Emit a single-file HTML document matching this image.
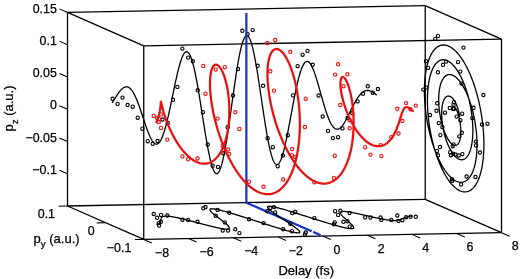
<!DOCTYPE html>
<html><head><meta charset="utf-8"><style>
html,body{margin:0;padding:0;background:#fff;}
svg{display:block;}
</style></head><body>
<svg width="520" height="279" viewBox="0 0 520 279">
<rect width="520" height="279" fill="#fff"/>
<g stroke="#000" stroke-width="1.3" fill="none"><line x1="67.50" y1="12.40" x2="425.25" y2="5.70"/><line x1="67.50" y1="12.40" x2="67.50" y2="206.00"/><line x1="67.50" y1="12.40" x2="143.75" y2="45.80"/><line x1="143.75" y1="45.80" x2="501.50" y2="39.10"/><line x1="143.75" y1="45.80" x2="143.75" y2="239.40"/><line x1="425.25" y1="5.70" x2="425.25" y2="199.30"/><line x1="425.25" y1="5.70" x2="501.50" y2="39.10"/><line x1="501.50" y1="39.10" x2="501.50" y2="232.70"/><line x1="67.50" y1="206.00" x2="425.25" y2="199.30"/><line x1="67.50" y1="206.00" x2="143.75" y2="239.40"/><line x1="143.75" y1="239.40" x2="501.50" y2="232.70"/><line x1="425.25" y1="199.30" x2="501.50" y2="232.70"/></g><g stroke="#000" stroke-width="1.05" fill="none"><line x1="67.50" y1="12.40" x2="59.44" y2="8.87"/><line x1="67.50" y1="44.67" x2="59.44" y2="41.14"/><line x1="67.50" y1="76.93" x2="59.44" y2="73.40"/><line x1="67.50" y1="109.20" x2="59.44" y2="105.67"/><line x1="67.50" y1="141.47" x2="59.44" y2="137.94"/><line x1="67.50" y1="173.73" x2="59.44" y2="170.20"/><line x1="67.50" y1="206.00" x2="58.70" y2="206.16"/><line x1="105.62" y1="222.70" x2="96.83" y2="222.86"/><line x1="143.75" y1="239.40" x2="134.95" y2="239.56"/><line x1="143.75" y1="239.40" x2="151.81" y2="242.93"/><line x1="188.47" y1="238.56" x2="196.53" y2="242.09"/><line x1="233.19" y1="237.72" x2="241.25" y2="241.26"/><line x1="277.91" y1="236.89" x2="285.97" y2="240.42"/><line x1="322.62" y1="236.05" x2="330.69" y2="239.58"/><line x1="367.34" y1="235.21" x2="375.40" y2="238.74"/><line x1="412.06" y1="234.38" x2="420.12" y2="237.91"/><line x1="456.78" y1="233.54" x2="464.84" y2="237.07"/><line x1="501.50" y1="232.70" x2="509.56" y2="236.23"/></g><g font-family="Liberation Sans, Arial, Helvetica, sans-serif" font-size="12.4" fill="#000" stroke="#000" stroke-width="0.25"><text x="56.8" y="12.6" text-anchor="end">0.15</text><text x="56.8" y="44.9" text-anchor="end">0.1</text><text x="56.8" y="77.1" text-anchor="end">0.05</text><text x="56.8" y="109.4" text-anchor="end">0</text><text x="56.8" y="141.7" text-anchor="end">−0.05</text><text x="56.8" y="173.9" text-anchor="end">−0.1</text><text x="55.0" y="218.4" text-anchor="end">0.1</text><text x="94.7" y="235.2" text-anchor="end">0</text><text x="131.3" y="251.8" text-anchor="end">−0.1</text><text x="162.1" y="257.0" text-anchor="middle">−8</text><text x="206.5" y="256.2" text-anchor="middle">−6</text><text x="251.2" y="255.3" text-anchor="middle">−4</text><text x="295.8" y="254.5" text-anchor="middle">−2</text><text x="336.9" y="253.7" text-anchor="middle">0</text><text x="381.2" y="252.8" text-anchor="middle">2</text><text x="425.8" y="252.0" text-anchor="middle">4</text><text x="470.0" y="251.1" text-anchor="middle">6</text><text x="515.3" y="250.3" text-anchor="middle">8</text><text x="306.2" y="275.2" text-anchor="middle" font-size="13.0">Delay (fs)</text><text x="33.5" y="242.6" font-size="13.0">p<tspan font-size="9.8" dy="4.8">y</tspan><tspan dy="-4.8"> (a.u.)</tspan></text><text transform="translate(12.9,131.6) rotate(-90)" font-size="13.0">p<tspan font-size="9.8" dy="4.8">z</tspan><tspan dy="-4.8"> (a.u.)</tspan></text></g><g stroke="#1432c8" stroke-width="2.2" fill="none" stroke-linecap="butt"><polyline points="246.4,201.7 246.4,202.7 311.69,231.24"/><line x1="313.16" y1="231.88" x2="320.62" y2="235.15"/></g><g stroke="#000" stroke-width="1.3" fill="none" stroke-linejoin="round"><polyline points="156.37,224.50 156.60,224.47 156.82,224.43 157.03,224.39 157.24,224.35 157.44,224.30 157.63,224.25 157.82,224.20 158.00,224.14 158.17,224.08 158.34,224.02 158.50,223.96 158.65,223.89 158.80,223.82 158.94,223.75 159.08,223.67 159.20,223.59 159.33,223.51 159.44,223.43 159.55,223.34 159.66,223.25 159.75,223.16 159.85,223.07 159.93,222.97 160.02,222.87 160.09,222.77 160.16,222.67 160.23,222.56 160.29,222.46 160.35,222.35 160.40,222.24 160.45,222.12 160.49,222.01 160.54,221.89 160.57,221.77 160.61,221.65 160.64,221.53 160.66,221.41 160.69,221.29 160.71,221.16 160.73,221.04 160.75,220.91 160.76,220.78 160.78,220.65 160.79,220.53 160.80,220.40 160.81,220.27 160.83,220.14 160.84,220.01 160.85,219.88 160.86,219.75 160.87,219.62 160.88,219.49 160.90,219.36 160.91,219.23 160.93,219.11 160.95,218.98 160.97,218.86 161.00,218.73 161.02,218.61 161.06,218.49 161.09,218.37 161.13,218.25 161.17,218.14 161.22,218.02 161.27,217.91 161.33,217.80 161.39,217.70 161.46,217.59 161.53,217.49 161.61,217.39 161.70,217.29 161.79,217.20 161.89,217.11 162.00,217.02 162.12,216.94 162.24,216.86 162.37,216.78 162.51,216.71 162.66,216.64 162.82,216.58 162.99,216.51 163.16,216.46 163.35,216.40 163.54,216.36 163.75,216.31 163.96,216.27 164.19,216.24 164.43,216.20 164.67,216.18 164.93,216.16 165.20,216.14 165.48,216.13 165.77,216.12 166.07,216.12 166.39,216.12 166.71,216.13 167.05,216.14 167.40,216.16 167.76,216.19 168.13,216.21 168.52,216.25 168.91,216.29 169.32,216.33 169.74,216.38 170.17,216.44 170.62,216.50 171.08,216.56 171.54,216.63 172.02,216.71 172.52,216.79 173.02,216.88 173.54,216.97 174.06,217.07 174.60,217.17 175.15,217.27 175.71,217.38 176.28,217.50 176.87,217.62 177.46,217.75 178.06,217.88 178.68,218.01 179.30,218.15 179.93,218.29 180.58,218.44 181.23,218.59 181.89,218.75 182.56,218.91 183.24,219.07 183.93,219.24 184.63,219.41 185.33,219.58 186.04,219.76 186.76,219.94 187.48,220.12 188.21,220.31 188.95,220.49 189.69,220.68 190.43,220.88 191.19,221.07 191.94,221.27 192.70,221.47 193.46,221.67 194.23,221.87 195.00,222.07 195.77,222.27 196.54,222.48 197.31,222.68 198.09,222.89 198.86,223.09 199.64,223.30 200.41,223.50 201.18,223.70 201.95,223.91 202.72,224.11 203.49,224.31 204.25,224.51 205.01,224.71 205.77,224.91 206.52,225.10 207.27,225.30 208.01,225.49 208.75,225.67 209.48,225.86 210.20,226.04 210.91,226.22 211.62,226.40 212.32,226.57 213.01,226.73 213.69,226.90 214.36,227.06 215.02,227.21 215.68,227.36 216.32,227.51 216.94,227.65 217.56,227.79 218.17,227.92 218.76,228.04 219.34,228.16 219.90,228.28 220.45,228.38 220.99,228.48 221.51,228.58 222.02,228.67 222.52,228.75 222.99,228.82 223.46,228.89 223.90,228.95 224.33,229.01 224.75,229.05 225.14,229.09 225.52,229.12 225.88,229.15 226.23,229.17 226.56,229.17 226.87,229.18 227.16,229.17 227.43,229.15 227.69,229.13 227.92,229.10 228.14,229.06 228.34,229.02 228.53,228.96 228.69,228.90 228.83,228.83 228.96,228.75 229.07,228.66 229.16,228.57 229.23,228.46 229.28,228.35 229.32,228.23 229.34,228.11 229.34,227.97 229.32,227.83 229.28,227.68 229.23,227.52 229.16,227.36 229.07,227.18 228.97,227.00 228.85,226.82 228.71,226.62 228.56,226.42 228.39,226.22 228.21,226.00 228.01,225.78 227.80,225.55 227.58,225.32 227.34,225.08 227.09,224.84 226.82,224.59 226.54,224.33 226.26,224.07 225.96,223.80 225.65,223.53 225.33,223.26 225.00,222.98 224.66,222.70 224.31,222.41 223.95,222.12 223.59,221.83 223.22,221.53 222.84,221.23 222.46,220.93 222.07,220.63 221.68,220.32 221.29,220.01 220.89,219.70 220.49,219.39 220.09,219.08 219.68,218.77 219.28,218.46 218.88,218.15 218.47,217.84 218.07,217.53 217.67,217.22 217.28,216.91 216.88,216.60 216.49,216.30 216.11,216.00 215.73,215.70 215.36,215.40 215.00,215.11 214.64,214.82 214.29,214.53 213.95,214.25 213.62,213.97 213.30,213.69 213.00,213.42 212.70,213.16 212.42,212.90 212.14,212.65 211.89,212.40 211.64,212.16 211.41,211.92 211.20,211.70 211.00,211.47 210.82,211.26 210.65,211.05 210.51,210.85 210.38,210.66 210.26,210.48 210.17,210.31 210.10,210.14 210.05,209.98 210.01,209.83 210.00,209.69 210.01,209.56 210.04,209.44 210.09,209.33 210.17,209.23 210.26,209.14 210.38,209.05 210.53,208.98 210.69,208.92 210.88,208.87 211.09,208.83 211.33,208.80 211.59,208.78 211.88,208.77 212.19,208.77 212.52,208.78 212.88,208.80 213.26,208.84 213.67,208.88 214.10,208.93 214.56,209.00 215.04,209.08 215.54,209.16 216.07,209.26 216.62,209.37 217.20,209.49 217.80,209.61 218.42,209.75 219.07,209.90 219.74,210.06 220.44,210.23 221.15,210.41 221.89,210.60 222.65,210.80 223.43,211.01 224.24,211.22 225.06,211.45 225.90,211.69 226.77,211.93 227.65,212.18 228.55,212.44 229.47,212.71 230.41,212.99 231.36,213.27 232.34,213.56 233.32,213.86 234.33,214.17 235.34,214.48 236.38,214.79 237.42,215.12 238.48,215.45 239.55,215.78 240.63,216.12 241.72,216.47 242.83,216.81 243.94,217.17 245.06,217.52 246.19,217.88 247.32,218.25 248.46,218.61 249.61,218.98 250.76,219.35 251.91,219.72 253.07,220.09 254.23,220.47 255.39,220.84 256.55,221.21 257.71,221.59 258.87,221.96 260.03,222.33 261.18,222.71 262.34,223.07 263.48,223.44 264.62,223.81 265.76,224.17 266.89,224.53 268.01,224.89 269.12,225.24 270.22,225.59 271.31,225.93 272.39,226.27 273.46,226.60 274.51,226.93 275.56,227.25 276.59,227.57 277.60,227.88 278.60,228.18 279.58,228.48 280.55,228.77 281.49,229.05 282.42,229.32 283.33,229.58 284.22,229.84 285.09,230.09 285.94,230.32 286.77,230.55 287.58,230.77 288.36,230.98 289.12,231.18 289.86,231.37 290.58,231.55 291.27,231.72 291.93,231.87 292.57,232.02 293.19,232.15 293.77,232.28 294.34,232.39 294.87,232.49 295.38,232.58 295.87,232.66 296.32,232.72 296.75,232.77 297.15,232.81 297.52,232.84 297.87,232.86 298.19,232.87 298.47,232.86 298.74,232.84 298.97,232.81 299.18,232.76 299.35,232.71 299.50,232.64 299.63,232.56 299.72,232.46 299.79,232.36 299.83,232.24 299.85,232.11 299.83,231.97 299.79,231.82 299.73,231.66 299.64,231.49 299.52,231.30 299.38,231.10 299.22,230.90 299.03,230.68 298.81,230.45 298.58,230.21 298.32,229.97 298.03,229.71 297.73,229.44 297.41,229.16 297.06,228.88 296.70,228.58 296.31,228.28 295.91,227.97 295.49,227.65 295.05,227.33 294.60,226.99 294.13,226.65 293.64,226.30 293.14,225.95 292.63,225.59 292.10,225.23 291.56,224.86 291.01,224.48 290.45,224.10 289.88,223.72 289.30,223.33 288.71,222.94 288.12,222.54 287.52,222.15 286.91,221.75 286.30,221.34 285.69,220.94 285.07,220.54 284.46,220.13 283.84,219.73 283.22,219.32 282.60,218.91 281.98,218.51 281.36,218.11 280.75,217.70 280.14,217.30 279.54,216.90 278.95,216.51 278.36,216.12 277.77,215.73 277.20,215.34 276.64,214.96 276.08,214.58 275.54,214.21 275.01,213.84 274.49,213.48 273.98,213.12 273.49,212.77 273.01,212.43 272.55,212.09 272.10,211.76 271.67,211.44 271.26,211.13 270.87,210.82 270.49,210.52 270.14,210.23 269.80,209.95 269.49,209.68 269.19,209.41 268.92,209.16 268.67,208.92 268.44,208.68 268.24,208.46 268.06,208.24 267.90,208.04 267.77,207.85 267.66,207.67 267.58,207.50 267.52,207.34 267.49,207.19 267.48,207.05 267.50,206.93 267.55,206.81 267.62,206.71 267.72,206.62 267.85,206.54 268.01,206.47 268.19,206.42 268.39,206.38 268.63,206.35 268.89,206.33 269.18,206.32 269.50,206.32 269.84,206.34 270.21,206.37 270.61,206.40 271.03,206.46 271.48,206.52 271.96,206.59 272.46,206.68 272.98,206.77 273.54,206.88 274.11,207.00 274.71,207.13 275.34,207.27 275.99,207.42 276.66,207.58 277.36,207.75 278.08,207.93 278.82,208.12 279.58,208.32 280.37,208.53 281.17,208.75 282.00,208.98 282.84,209.21 283.70,209.45 284.58,209.71 285.48,209.96 286.40,210.23 287.33,210.50 288.28,210.79 289.24,211.07 290.22,211.37 291.21,211.67 292.21,211.97 293.23,212.28 294.25,212.60 295.29,212.92 296.34,213.24 297.39,213.57 298.46,213.90 299.53,214.24 300.61,214.57 301.69,214.91 302.78,215.26 303.88,215.60 304.98,215.95 306.08,216.30 307.18,216.65 308.28,217.00 309.39,217.35 310.49,217.69 311.60,218.04 312.70,218.39 313.80,218.74 314.89,219.08 315.98,219.43 317.07,219.77 318.15,220.11 319.23,220.44 320.29,220.78 321.35,221.11 322.40,221.43 323.45,221.76 324.48,222.07 325.50,222.39 326.51,222.69 327.51,223.00 328.49,223.29 329.46,223.59 330.42,223.87 331.37,224.15 332.30,224.42 333.21,224.69 334.11,224.95 334.99,225.20 335.86,225.44 336.70,225.68 337.53,225.91 338.35,226.13 339.14,226.34 339.91,226.55 340.67,226.75 341.40,226.93 342.12,227.11 342.81,227.28 343.48,227.44 344.14,227.59 344.77,227.74 345.38,227.87 345.97,227.99 346.53,228.11 347.08,228.21 347.60,228.30 348.10,228.39 348.58,228.47 349.04,228.53 349.47,228.59 349.89,228.63 350.28,228.67 350.64,228.70 350.99,228.71 351.31,228.72 351.61,228.72 351.89,228.71 352.15,228.69 352.39,228.66 352.61,228.62 352.80,228.57 352.97,228.51 353.13,228.44 353.26,228.36 353.37,228.28 353.47,228.19 353.54,228.08 353.59,227.97 353.63,227.85 353.65,227.73 353.65,227.59 353.63,227.45 353.59,227.30 353.54,227.14 353.47,226.98 353.39,226.81 353.29,226.63 353.18,226.45 353.05,226.26 352.91,226.06 352.75,225.86 352.58,225.65 352.40,225.44 352.21,225.22 352.01,224.99 351.80,224.77 351.57,224.53 351.34,224.30 351.10,224.06 350.85,223.81 350.59,223.57 350.33,223.32 350.06,223.07 349.78,222.81 349.50,222.55 349.22,222.29 348.93,222.03 348.64,221.77 348.34,221.51 348.04,221.24 347.74,220.97 347.44,220.71 347.14,220.44 346.84,220.18 346.54,219.91 346.24,219.65 345.95,219.38 345.66,219.12 345.37,218.86 345.08,218.60 344.80,218.34 344.52,218.08 344.25,217.83 343.98,217.58 343.72,217.33 343.47,217.09 343.22,216.84 342.98,216.60 342.75,216.37 342.53,216.14 342.32,215.91 342.11,215.69 341.92,215.47 341.74,215.25 341.56,215.04 341.40,214.84 341.25,214.64 341.12,214.44 340.99,214.25 340.88,214.07 340.78,213.89 340.69,213.72 340.61,213.55 340.55,213.39 340.50,213.23 340.47,213.09 340.45,212.94 340.45,212.81 340.45,212.68 340.48,212.55 340.52,212.43 340.57,212.32 340.64,212.22 340.72,212.12 340.82,212.03 340.93,211.94 341.06,211.87 341.20,211.79 341.36,211.73 341.54,211.67 341.73,211.62 341.93,211.57 342.15,211.54 342.38,211.50 342.63,211.48 342.89,211.46 343.17,211.45 343.46,211.44 343.77,211.44 344.09,211.45 344.43,211.46 344.78,211.48 345.14,211.50 345.51,211.53 345.90,211.57 346.30,211.61 346.72,211.66 347.14,211.71 347.58,211.77 348.03,211.83 348.49,211.90 348.97,211.97 349.45,212.05 349.95,212.13 350.45,212.22 350.97,212.31 351.49,212.40 352.02,212.50 352.57,212.61 353.12,212.71 353.68,212.82 354.24,212.94 354.82,213.05 355.40,213.17 355.99,213.30 356.58,213.42 357.19,213.55 357.79,213.68 358.40,213.82 359.02,213.95 359.64,214.09 360.27,214.23 360.89,214.37 361.53,214.51 362.16,214.66 362.80,214.80 363.44,214.95 364.08,215.09 364.72,215.24 365.36,215.39 366.01,215.54 366.65,215.68 367.29,215.83 367.94,215.98 368.58,216.12 369.22,216.27 369.86,216.42 370.50,216.56 371.13,216.71 371.76,216.85 372.39,216.99 373.02,217.13 373.64,217.27 374.26,217.41 374.88,217.54 375.49,217.67 376.10,217.81 376.70,217.93 377.29,218.06 377.89,218.19 378.47,218.31 379.05,218.43 379.62,218.54 380.19,218.66 380.75,218.77 381.31,218.88 381.85,218.98 382.39,219.09 382.93,219.18 383.45,219.28 383.97,219.37 384.48,219.46 384.98,219.55 385.48,219.63 385.97,219.71 386.45,219.79 386.92,219.86 387.38,219.93 387.84,219.99 388.28,220.05 388.72,220.11 389.15,220.16 389.57,220.21 389.99,220.26 390.39,220.30 390.79,220.34 391.18,220.38 391.56,220.41 391.93,220.44 392.29,220.47 392.65,220.49 393.00,220.50 393.34,220.52 393.67,220.53 393.99,220.54 394.31,220.54 394.62,220.54 394.92,220.54 395.21,220.53 395.50,220.53 395.78,220.51 396.05,220.50 396.32,220.48 396.57,220.46 396.83,220.43 397.07,220.41 397.31,220.38 397.54,220.35 397.77,220.31 397.99,220.27 398.21,220.23 398.42,220.19 398.62,220.15 398.82,220.10 399.02,220.05 399.21,220.00 399.40,219.95 399.58,219.89 399.76,219.84 399.93,219.78 400.10,219.72 400.27,219.66 400.44,219.60 400.60,219.53 400.76,219.47 400.91,219.40 401.07,219.34 401.22,219.27 401.37,219.20 401.51,219.13 401.66,219.06 401.81,218.99 401.95,218.92 402.09,218.84 402.23,218.77 402.38,218.70 402.52,218.63 402.66,218.55 402.80,218.48 402.94,218.41 403.08,218.34 403.22,218.26 403.37,218.19 403.51,218.12 403.65,218.05 403.80,217.98 403.95,217.91 404.09,217.84 404.24,217.77 404.40,217.70 404.55,217.64 404.71,217.57 404.86,217.50 405.02,217.44 405.19,217.38 405.35,217.31 405.52,217.25 405.69,217.19 405.86,217.13 406.04,217.08 406.22,217.02 406.40,216.97 406.58,216.91 406.77,216.86 406.96,216.81 407.16,216.76 407.35,216.71 407.55,216.67 407.76,216.62 407.97,216.58 408.18,216.54 408.39,216.50 408.61,216.46 408.84,216.42 409.06,216.39 409.29,216.35 409.52,216.32 409.76,216.29 410.00,216.26 410.24,216.23 410.49,216.21 410.74,216.18 411.00,216.16 411.25,216.14 411.51,216.12 411.78,216.10 412.05,216.08 412.32,216.07 412.59,216.05 412.87,216.04"/><polyline points="459.70,116.73 459.63,116.21 459.55,115.70 459.47,115.17 459.39,114.65 459.29,114.12 459.19,113.59 459.08,113.06 458.97,112.53 458.85,111.99 458.72,111.46 458.59,110.92 458.44,110.39 458.30,109.86 458.14,109.33 457.98,108.80 457.82,108.27 457.64,107.75 457.46,107.23 457.28,106.72 457.09,106.21 456.89,105.70 456.69,105.21 456.48,104.72 456.27,104.24 456.05,103.76 455.83,103.30 455.60,102.84 455.36,102.40 455.13,101.96 454.88,101.54 454.64,101.12 454.39,100.72 454.13,100.34 453.87,99.96 453.61,99.60 453.35,99.25 453.08,98.92 452.81,98.61 452.54,98.31 452.26,98.02 451.98,97.76 451.70,97.51 451.42,97.28 451.14,97.07 450.86,96.87 450.58,96.70 450.29,96.55 450.01,96.41 449.72,96.30 449.44,96.20 449.16,96.13 448.87,96.08 448.59,96.05 448.31,96.05 448.03,96.07 447.76,96.10 447.49,96.17 447.22,96.25 446.95,96.36 446.68,96.49 446.42,96.65 446.17,96.83 445.91,97.03 445.67,97.26 445.42,97.51 445.19,97.79 444.95,98.09 444.73,98.41 444.51,98.76 444.29,99.14 444.08,99.53 443.88,99.95 443.69,100.40 443.50,100.86 443.32,101.36 443.15,101.87 442.99,102.41 442.83,102.97 442.69,103.55 442.55,104.15 442.42,104.78 442.30,105.42 442.19,106.09 442.10,106.78 442.01,107.49 441.93,108.21 441.86,108.96 441.80,109.72 441.75,110.51 441.72,111.31 441.69,112.12 441.68,112.95 441.67,113.80 441.68,114.66 441.70,115.54 441.73,116.43 441.77,117.33 441.83,118.25 441.90,119.17 441.98,120.11 442.07,121.05 442.17,122.01 442.28,122.97 442.41,123.94 442.55,124.91 442.70,125.89 442.86,126.87 443.04,127.86 443.22,128.85 443.42,129.84 443.63,130.83 443.85,131.82 444.09,132.80 444.33,133.79 444.59,134.77 444.86,135.75 445.14,136.72 445.43,137.68 445.73,138.64 446.04,139.59 446.36,140.53 446.69,141.45 447.03,142.37 447.38,143.27 447.74,144.16 448.11,145.03 448.49,145.89 448.87,146.73 449.27,147.56 449.67,148.36 450.08,149.15 450.50,149.91 450.92,150.65 451.35,151.37 451.79,152.06 452.23,152.74 452.68,153.38 453.13,154.00 453.59,154.59 454.06,155.15 454.52,155.69 454.99,156.19 455.47,156.67 455.94,157.11 456.42,157.52 456.90,157.90 457.38,158.24 457.86,158.56 458.34,158.83 458.83,159.07 459.31,159.28 459.79,159.45 460.27,159.58 460.74,159.67 461.22,159.73 461.69,159.75 462.15,159.73 462.62,159.67 463.08,159.58 463.53,159.44 463.98,159.26 464.42,159.05 464.86,158.79 465.29,158.50 465.71,158.16 466.13,157.79 466.53,157.37 466.93,156.92 467.32,156.42 467.70,155.89 468.07,155.32 468.42,154.70 468.77,154.05 469.11,153.36 469.43,152.63 469.74,151.87 470.04,151.06 470.32,150.22 470.60,149.34 470.86,148.43 471.10,147.48 471.33,146.50 471.54,145.48 471.74,144.43 471.93,143.35 472.10,142.23 472.25,141.09 472.39,139.91 472.51,138.71 472.61,137.48 472.69,136.22 472.76,134.93 472.81,133.62 472.85,132.29 472.86,130.93 472.86,129.55 472.84,128.15 472.80,126.73 472.74,125.30 472.67,123.84 472.57,122.38 472.46,120.89 472.33,119.40 472.18,117.89 472.01,116.37 471.82,114.85 471.62,113.32 471.40,111.78 471.15,110.24 470.89,108.69 470.62,107.14 470.32,105.60 470.01,104.05 469.67,102.51 469.33,100.97 468.96,99.44 468.58,97.92 468.18,96.41 467.76,94.90 467.33,93.41 466.88,91.94 466.42,90.48 465.94,89.03 465.45,87.61 464.94,86.20 464.42,84.82 463.89,83.46 463.34,82.12 462.78,80.81 462.21,79.53 461.62,78.28 461.03,77.05 460.42,75.86 459.80,74.70 459.18,73.58 458.54,72.49 457.90,71.43 457.24,70.42 456.58,69.44 455.92,68.51 455.24,67.62 454.57,66.77 453.88,65.96 453.19,65.20 452.50,64.49 451.81,63.82 451.11,63.20 450.41,62.63 449.71,62.10 449.01,61.63 448.31,61.21 447.61,60.84 446.91,60.53 446.22,60.26 445.53,60.05 444.84,59.90 444.15,59.80 443.47,59.75 442.80,59.76 442.13,59.83 441.47,59.95 440.82,60.13 440.17,60.36 439.54,60.65 438.91,60.99 438.29,61.40 437.69,61.86 437.10,62.37 436.52,62.94 435.95,63.57 435.39,64.25 434.85,64.98 434.33,65.77 433.82,66.62 433.33,67.51 432.85,68.46 432.39,69.47 431.94,70.52 431.52,71.62 431.11,72.78 430.72,73.98 430.36,75.23 430.01,76.53 429.68,77.87 429.37,79.26 429.09,80.69 428.82,82.17 428.58,83.69 428.36,85.24 428.16,86.84 427.98,88.47 427.83,90.14 427.70,91.84 427.60,93.58 427.52,95.34 427.46,97.14 427.42,98.97 427.42,100.82 427.43,102.70 427.47,104.60 427.53,106.52 427.62,108.46 427.74,110.42 427.87,112.40 428.04,114.39 428.22,116.39 428.43,118.40 428.67,120.43 428.93,122.46 429.21,124.49 429.52,126.53 429.85,128.56 430.21,130.60 430.58,132.63 430.99,134.66 431.41,136.68 431.85,138.70 432.32,140.70 432.81,142.69 433.32,144.66 433.85,146.62 434.40,148.56 434.97,150.48 435.57,152.37 436.17,154.25 436.80,156.09 437.45,157.91 438.11,159.70 438.79,161.45 439.49,163.17 440.20,164.86 440.92,166.51 441.66,168.12 442.42,169.69 443.18,171.22 443.96,172.70 444.75,174.14 445.55,175.53 446.36,176.88 447.18,178.17 448.01,179.42 448.85,180.61 449.69,181.74 450.54,182.83 451.40,183.85 452.26,184.82 453.12,185.73 453.99,186.59 454.85,187.38 455.72,188.11 456.59,188.78 457.46,189.38 458.33,189.92 459.20,190.40 460.06,190.81 460.92,191.16 461.77,191.44 462.62,191.66 463.47,191.81 464.30,191.89 465.13,191.91 465.95,191.85 466.76,191.73 467.56,191.55 468.35,191.29 469.13,190.97 469.89,190.58 470.64,190.13 471.38,189.60 472.10,189.02 472.81,188.36 473.50,187.64 474.17,186.86 474.83,186.01 475.46,185.10 476.08,184.13 476.68,183.09 477.26,182.00 477.82,180.84 478.35,179.63 478.87,178.36 479.36,177.03 479.83,175.65 480.27,174.21 480.69,172.72 481.09,171.18 481.46,169.59 481.81,167.94 482.13,166.26 482.43,164.52 482.70,162.75 482.94,160.93 483.15,159.07 483.34,157.17 483.50,155.24 483.64,153.27 483.75,151.26 483.82,149.23 483.88,147.16 483.90,145.07 483.89,142.95 483.86,140.81 483.80,138.65 483.71,136.47 483.60,134.27 483.45,132.05 483.28,129.83 483.08,127.59 482.85,125.34 482.60,123.09 482.32,120.83 482.01,118.56 481.68,116.30 481.32,114.04 480.93,111.79 480.52,109.54 480.08,107.29 479.62,105.06 479.13,102.84 478.63,100.64 478.09,98.45 477.54,96.29 476.96,94.14 476.36,92.02 475.74,89.92 475.10,87.85 474.44,85.80 473.75,83.79 473.06,81.81 472.34,79.87 471.60,77.96 470.85,76.10 470.08,74.27 469.30,72.48 468.50,70.74 467.69,69.04 466.87,67.39 466.03,65.79 465.19,64.24 464.33,62.74 463.46,61.30 462.59,59.90 461.70,58.57 460.81,57.29 459.91,56.07 459.01,54.90 458.10,53.80 457.19,52.76 456.28,51.78 455.36,50.86 454.45,50.01 453.53,49.22 452.61,48.50 451.70,47.85 450.79,47.26 449.88,46.73 448.97,46.28 448.07,45.89 447.18,45.57 446.29,45.32 445.41,45.14 444.54,45.02 443.68,44.98 442.83,45.00 441.99,45.09 441.16,45.25 440.34,45.48 439.54,45.77 438.75,46.14 437.98,46.57 437.22,47.06 436.47,47.62 435.75,48.25 435.04,48.94 434.35,49.70 433.68,50.51 433.03,51.39 432.39,52.33 431.78,53.33 431.19,54.39 430.62,55.51 430.08,56.68 429.56,57.91 429.06,59.20 428.58,60.53 428.13,61.92 427.70,63.36 427.30,64.84 426.92,66.37 426.56,67.95 426.24,69.57 425.94,71.24 425.66,72.94 425.41,74.68 425.19,76.46 425.00,78.28 424.83,80.12 424.69,82.00 424.58,83.91 424.49,85.85 424.43,87.81 424.40,89.80 424.39,91.80 424.41,93.83 424.46,95.88 424.54,97.94 424.64,100.01 424.77,102.10 424.93,104.20 425.11,106.30 425.32,108.41 425.55,110.52 425.81,112.64 426.09,114.75 426.40,116.87 426.74,118.98 427.09,121.08 427.47,123.17 427.88,125.25 428.30,127.32 428.75,129.38 429.22,131.42 429.71,133.44 430.22,135.44 430.76,137.42 431.31,139.38 431.88,141.31 432.47,143.21 433.07,145.09 433.70,146.93 434.34,148.74 434.99,150.52 435.66,152.26 436.35,153.97 437.05,155.63 437.76,157.26 438.48,158.84 439.21,160.38 439.96,161.88 440.72,163.33 441.48,164.74 442.25,166.10 443.03,167.41 443.82,168.66 444.61,169.87 445.41,171.03 446.22,172.13 447.02,173.18 447.83,174.18 448.64,175.12 449.46,176.00 450.27,176.83 451.08,177.60 451.89,178.31 452.70,178.97 453.51,179.56 454.32,180.10 455.12,180.58 455.91,181.00 456.70,181.36 457.48,181.66 458.26,181.90 459.03,182.09 459.78,182.21 460.53,182.28 461.27,182.28 462.00,182.23 462.72,182.12 463.43,181.95 464.12,181.72 464.80,181.44 465.47,181.10 466.12,180.71 466.76,180.26 467.38,179.75 467.99,179.19 468.58,178.58 469.15,177.92 469.70,177.20 470.24,176.44 470.76,175.63 471.26,174.77 471.74,173.86 472.20,172.90 472.65,171.91 473.07,170.86 473.47,169.78 473.85,168.65 474.21,167.49 474.55,166.28 474.87,165.04 475.16,163.77 475.43,162.46 475.69,161.11 475.92,159.74 476.12,158.34 476.31,156.90 476.47,155.45 476.61,153.96 476.73,152.45 476.83,150.93 476.90,149.38 476.95,147.81 476.98,146.22 476.99,144.62 476.98,143.01 476.94,141.38 476.88,139.74 476.80,138.10 476.70,136.45 476.58,134.79 476.44,133.12 476.28,131.46 476.10,129.79 475.89,128.13 475.67,126.47 475.43,124.81 475.17,123.16 474.90,121.51 474.60,119.87 474.29,118.25 473.96,116.63 473.61,115.03 473.25,113.45 472.87,111.88 472.47,110.33 472.06,108.79 471.64,107.28 471.20,105.79 470.75,104.32 470.29,102.88 469.81,101.46 469.32,100.07 468.82,98.70 468.32,97.37 467.80,96.06 467.27,94.79 466.73,93.55 466.19,92.34 465.63,91.16 465.07,90.02 464.51,88.92 463.93,87.85 463.36,86.82 462.78,85.83 462.19,84.88 461.60,83.96 461.01,83.09 460.42,82.26 459.82,81.46 459.22,80.71 458.63,80.00 458.03,79.34 457.44,78.71 456.84,78.13 456.25,77.60 455.66,77.10 455.07,76.65 454.49,76.24 453.91,75.88 453.34,75.56 452.77,75.28 452.21,75.05 451.65,74.86 451.10,74.72 450.56,74.61 450.02,74.55 449.50,74.53 448.98,74.56 448.47,74.62 447.97,74.73 447.48,74.88 447.00,75.07 446.54,75.30 446.08,75.57 445.63,75.88 445.20,76.22 444.78,76.60 444.37,77.02 443.97,77.48 443.59,77.97 443.22,78.50 442.86,79.06 442.52,79.65 442.19,80.28 441.88,80.93 441.58,81.62 441.29,82.33 441.02,83.08 440.76,83.85 440.52,84.65 440.29,85.47 440.08,86.32 439.88,87.19 439.70,88.08 439.54,89.00 439.39,89.93 439.25,90.88 439.13,91.86 439.02,92.84 438.93,93.85 438.86,94.87 438.80,95.90 438.75,96.94 438.72,98.00 438.70,99.06 438.70,100.14 438.71,101.22 438.74,102.31 438.78,103.40 438.84,104.50 438.90,105.60 438.98,106.70 439.08,107.80 439.19,108.91 439.31,110.01 439.44,111.11 439.58,112.21 439.74,113.30 439.91,114.39 440.09,115.47 440.28,116.54 440.48,117.61 440.69,118.66 440.91,119.71 441.14,120.74 441.38,121.76 441.63,122.77 441.89,123.77 442.16,124.75 442.43,125.71 442.71,126.66 443.00,127.59 443.30,128.50 443.60,129.40 443.91,130.27 444.22,131.13 444.54,131.96 444.86,132.78 445.19,133.57 445.52,134.34 445.86,135.08 446.19,135.80 446.54,136.50 446.88,137.18 447.23,137.83 447.57,138.45 447.92,139.05 448.27,139.63 448.62,140.17 448.97,140.69 449.32,141.19 449.67,141.66 450.02,142.10 450.37,142.51 450.72,142.90 451.06,143.26 451.40,143.59 451.74,143.90 452.08,144.17 452.41,144.42 452.74,144.65 453.07,144.84 453.39,145.01 453.71,145.15 454.02,145.27 454.33,145.36 454.64,145.42 454.93,145.45 455.23,145.46 455.51,145.45 455.79,145.41 456.07,145.34 456.33,145.25 456.59,145.14 456.85,145.00 457.10,144.84 457.33,144.65 457.57,144.45 457.79,144.22 458.01,143.97 458.22,143.70 458.42,143.40 458.61,143.09 458.80,142.76 458.98,142.41 459.15,142.04 459.31,141.66 459.46,141.25 459.61,140.83 459.74,140.40 459.87,139.95 459.99,139.48 460.10,139.00 460.20,138.51 460.30,138.00 460.39,137.49 460.46,136.96 460.53,136.42 460.60,135.87 460.65,135.31 460.69,134.75 460.73,134.17 460.76,133.59 460.78,133.00 460.80,132.41 460.81,131.81 460.80,131.20 460.80,130.59 460.78,129.98 460.76,129.37 460.73,128.75 460.69,128.14 460.65,127.52 460.60,126.90 460.55,126.29 460.49,125.67 460.42,125.06 460.35,124.45 460.27,123.84 460.18,123.24 460.10,122.64 460.00,122.04 459.90,121.45 459.80,120.87 459.69,120.29 459.58,119.72 459.46,119.16 459.34,118.60 459.22,118.06 459.09,117.52 458.96,116.99 458.83,116.47 458.69,115.96 458.55,115.46 458.41,114.97 458.27,114.50 458.12,114.03 457.98,113.58 457.83,113.14 457.68,112.71 457.53,112.29 457.38,111.89 457.22,111.50 457.07,111.12 456.92,110.76 456.76,110.41 456.61,110.07 456.45,109.75 456.30,109.44 456.15,109.15 456.00,108.87 455.84,108.60 455.69,108.35 455.55,108.12 455.40,107.90 455.25,107.69 455.11,107.50 454.96,107.32 454.82,107.16 454.68,107.01 454.55,106.88 454.41,106.76 454.28,106.65 454.15,106.56 454.02,106.49 453.90,106.43 453.78,106.38 453.66,106.34 453.54,106.32 453.43,106.31 453.32,106.32 453.21,106.34 453.11,106.37 453.01,106.41 452.91,106.47 452.82,106.54 452.73,106.62 452.64,106.71 452.56,106.81 452.48,106.93 452.41,107.05 452.33,107.19 452.26,107.33 452.20,107.49 452.14,107.65 452.08,107.83 452.03,108.01 451.97,108.20 451.93,108.40 451.88,108.61 451.84,108.82 451.81,109.04 451.77,109.27 451.74,109.51 451.72,109.75 451.69,110.00 451.67,110.25 451.65,110.51"/><polyline points="112.22,102.89 112.51,102.41 112.81,101.92 113.10,101.44 113.40,100.96 113.69,100.47 113.98,99.99 114.28,99.51 114.57,99.03 114.87,98.55 115.16,98.07 115.46,97.60 115.75,97.13 116.04,96.66 116.34,96.20 116.63,95.74 116.93,95.29 117.22,94.85 117.51,94.41 117.81,93.98 118.10,93.56 118.40,93.14 118.69,92.73 118.99,92.34 119.28,91.95 119.57,91.57 119.87,91.20 120.16,90.85 120.46,90.51 120.75,90.17 121.05,89.86 121.34,89.55 121.63,89.26 121.93,88.98 122.22,88.72 122.52,88.47 122.81,88.24 123.11,88.02 123.40,87.83 123.69,87.64 123.99,87.48 124.28,87.33 124.58,87.20 124.87,87.09 125.16,87.00 125.46,86.92 125.75,86.87 126.05,86.83 126.34,86.82 126.64,86.82 126.93,86.85 127.22,86.89 127.52,86.96 127.81,87.05 128.11,87.16 128.40,87.29 128.70,87.44 128.99,87.61 129.28,87.81 129.58,88.03 129.87,88.26 130.17,88.52 130.46,88.81 130.76,89.11 131.05,89.44 131.34,89.78 131.64,90.15 131.93,90.54 132.23,90.95 132.52,91.38 132.81,91.84 133.11,92.31 133.40,92.81 133.70,93.32 133.99,93.86 134.29,94.41 134.58,94.99 134.87,95.58 135.17,96.19 135.46,96.82 135.76,97.47 136.05,98.13 136.35,98.81 136.64,99.51 136.93,100.22 137.23,100.95 137.52,101.70 137.82,102.45 138.11,103.23 138.41,104.01 138.70,104.81 138.99,105.62 139.29,106.44 139.58,107.27 139.88,108.10 140.17,108.95 140.46,109.81 140.76,110.67 141.05,111.54 141.35,112.42 141.64,113.30 141.94,114.18 142.23,115.07 142.52,115.96 142.82,116.85 143.11,117.75 143.41,118.64 143.70,119.53 144.00,120.42 144.29,121.31 144.58,122.19 144.88,123.07 145.17,123.94 145.47,124.80 145.76,125.66 146.06,126.51 146.35,127.35 146.64,128.18 146.94,129.00 147.23,129.81 147.53,130.60 147.82,131.38 148.11,132.14 148.41,132.89 148.70,133.62 149.00,134.34 149.29,135.03 149.59,135.71 149.88,136.36 150.17,137.00 150.47,137.61 150.76,138.20 151.06,138.76 151.35,139.30 151.65,139.82 151.94,140.31 152.23,140.77 152.53,141.21 152.82,141.62 153.12,141.99 153.41,142.34 153.70,142.66 154.00,142.95 154.29,143.21 154.59,143.43 154.88,143.63 155.18,143.79 155.47,143.91 155.76,144.00 156.06,144.06 156.35,144.09 156.65,144.08 156.94,144.03 157.24,143.95 157.53,143.83 157.82,143.68 158.12,143.49 158.41,143.26 158.71,143.00 159.00,142.70 159.30,142.37 159.59,141.99 159.88,141.59 160.18,141.14 160.47,140.66 160.77,140.14 161.06,139.59 161.35,139.00 161.65,138.38 161.94,137.72 162.24,137.02 162.53,136.30 162.83,135.53 163.12,134.74 163.41,133.91 163.71,133.05 164.00,132.15 164.30,131.23 164.59,130.27 164.89,129.29 165.18,128.27 165.47,127.23 165.77,126.16 166.06,125.06 166.36,123.93 166.65,122.78 166.95,121.61 167.24,120.41 167.53,119.19 167.83,117.95 168.12,116.69 168.42,115.41 168.71,114.11 169.00,112.79 169.30,111.46 169.59,110.11 169.89,108.75 170.18,107.38 170.48,106.00 170.77,104.60 171.06,103.20 171.36,101.79 171.65,100.38 171.95,98.96 172.24,97.53 172.54,96.11 172.83,94.68 173.12,93.26 173.42,91.84 173.71,90.42 174.01,89.00 174.30,87.60 174.60,86.20 174.89,84.81 175.18,83.43 175.48,82.06 175.77,80.71 176.07,79.37 176.36,78.05 176.65,76.74 176.95,75.46 177.24,74.19 177.54,72.95 177.83,71.73 178.13,70.54 178.42,69.37 178.71,68.22 179.01,67.11 179.30,66.03 179.60,64.97 179.89,63.95 180.19,62.97 180.48,62.01 180.77,61.10 181.07,60.22 181.36,59.38 181.66,58.57 181.95,57.81 182.25,57.09 182.54,56.41 182.83,55.77 183.13,55.18 183.42,54.63 183.72,54.12 184.01,53.67 184.30,53.25 184.60,52.89 184.89,52.58 185.19,52.31 185.48,52.09 185.78,51.92 186.07,51.81 186.36,51.74 186.66,51.72 186.95,51.76 187.25,51.85 187.54,51.99 187.84,52.18 188.13,52.42 188.42,52.71 188.72,53.06 189.01,53.46 189.31,53.91 189.60,54.41 189.90,54.96 190.19,55.57 190.48,56.22 190.78,56.93 191.07,57.68 191.37,58.49 191.66,59.34 191.95,60.25 192.25,61.20 192.54,62.20 192.84,63.24 193.13,64.33 193.43,65.47 193.72,66.64 194.01,67.87 194.31,69.13 194.60,70.43 194.90,71.78 195.19,73.16 195.49,74.58 195.78,76.04 196.07,77.53 196.37,79.06 196.66,80.62 196.96,82.21 197.25,83.83 197.55,85.48 197.84,87.16 198.13,88.86 198.43,90.58 198.72,92.33 199.02,94.10 199.31,95.88 199.60,97.69 199.90,99.51 200.19,101.34 200.49,103.19 200.78,105.05 201.08,106.91 201.37,108.79 201.66,110.67 201.96,112.55 202.25,114.43 202.55,116.32 202.84,118.20 203.14,120.08 203.43,121.95 203.72,123.81 204.02,125.67 204.31,127.51 204.61,129.35 204.90,131.16 205.19,132.96 205.49,134.75 205.78,136.51 206.08,138.25 206.37,139.97 206.67,141.66 206.96,143.32 207.25,144.96 207.55,146.56 207.84,148.13 208.14,149.67 208.43,151.18 208.73,152.64 209.02,154.07 209.31,155.46 209.61,156.81 209.90,158.11 210.20,159.37 210.49,160.58 210.79,161.75 211.08,162.87 211.37,163.94 211.67,164.96 211.96,165.93 212.26,166.84 212.55,167.70 212.84,168.51 213.14,169.26 213.43,169.95 213.73,170.59 214.02,171.16 214.32,171.68 214.61,172.14 214.90,172.54 215.20,172.88 215.49,173.16 215.79,173.37 216.08,173.53 216.38,173.62 216.67,173.65 216.96,173.61 217.26,173.52 217.55,173.36 217.85,173.13 218.14,172.85 218.44,172.50 218.73,172.09 219.02,171.62 219.32,171.08 219.61,170.49 219.91,169.83 220.20,169.11 220.49,168.34 220.79,167.50 221.08,166.61 221.38,165.65 221.67,164.64 221.97,163.58 222.26,162.46 222.55,161.28 222.85,160.05 223.14,158.77 223.44,157.44 223.73,156.06 224.03,154.63 224.32,153.15 224.61,151.63 224.91,150.06 225.20,148.45 225.50,146.79 225.79,145.10 226.09,143.37 226.38,141.60 226.67,139.80 226.97,137.96 227.26,136.09 227.56,134.19 227.85,132.26 228.14,130.31 228.44,128.33 228.73,126.33 229.03,124.31 229.32,122.27 229.62,120.21 229.91,118.14 230.20,116.05 230.50,113.95 230.79,111.85 231.09,109.73 231.38,107.61 231.68,105.49 231.97,103.37 232.26,101.25 232.56,99.13 232.85,97.02 233.15,94.91 233.44,92.81 233.74,90.73 234.03,88.65 234.32,86.59 234.62,84.55 234.91,82.53 235.21,80.53 235.50,78.55 235.79,76.60 236.09,74.67 236.38,72.77 236.68,70.90 236.97,69.07 237.27,67.27 237.56,65.50 237.85,63.77 238.15,62.08 238.44,60.43 238.74,58.82 239.03,57.26 239.33,55.74 239.62,54.27 239.91,52.84 240.21,51.47 240.50,50.14 240.80,48.87 241.09,47.65 241.39,46.48 241.68,45.37 241.97,44.32 242.27,43.32 242.56,42.38 242.86,41.50 243.15,40.68 243.44,39.92 243.74,39.22 244.03,38.58 244.33,38.01 244.62,37.50 244.92,37.05 245.21,36.66 245.50,36.34 245.80,36.08 246.09,35.89 246.39,35.76 246.68,35.70 246.98,35.70 247.27,35.77 247.56,35.90 247.86,36.09 248.15,36.35 248.45,36.67 248.74,37.05 249.03,37.50 249.33,38.01 249.62,38.58 249.92,39.21 250.21,39.90 250.51,40.65 250.80,41.46 251.09,42.33 251.39,43.25 251.68,44.23 251.98,45.26 252.27,46.35 252.57,47.49 252.86,48.68 253.15,49.92 253.45,51.22 253.74,52.55 254.04,53.94 254.33,55.37 254.63,56.84 254.92,58.35 255.21,59.90 255.51,61.50 255.80,63.13 256.10,64.79 256.39,66.49 256.68,68.22 256.98,69.98 257.27,71.77 257.57,73.58 257.86,75.42 258.16,77.29 258.45,79.17 258.74,81.07 259.04,82.99 259.33,84.93 259.63,86.88 259.92,88.84 260.22,90.81 260.51,92.79 260.80,94.78 261.10,96.77 261.39,98.76 261.69,100.75 261.98,102.74 262.28,104.72 262.57,106.70 262.86,108.68 263.16,110.64 263.45,112.59 263.75,114.53 264.04,116.46 264.33,118.37 264.63,120.26 264.92,122.12 265.22,123.97 265.51,125.80 265.81,127.59 266.10,129.36 266.39,131.11 266.69,132.82 266.98,134.50 267.28,136.15 267.57,137.76 267.87,139.34 268.16,140.88 268.45,142.38 268.75,143.84 269.04,145.26 269.34,146.63 269.63,147.96 269.93,149.25 270.22,150.49 270.51,151.69 270.81,152.83 271.10,153.93 271.40,154.98 271.69,155.98 271.98,156.92 272.28,157.82 272.57,158.66 272.87,159.44 273.16,160.18 273.46,160.86 273.75,161.48 274.04,162.05 274.34,162.56 274.63,163.02 274.93,163.42 275.22,163.77 275.52,164.06 275.81,164.29 276.10,164.47 276.40,164.59 276.69,164.66 276.99,164.67 277.28,164.62 277.58,164.52 277.87,164.36 278.16,164.15 278.46,163.89 278.75,163.57 279.05,163.20 279.34,162.77 279.63,162.30 279.93,161.77 280.22,161.19 280.52,160.57 280.81,159.89 281.11,159.17 281.40,158.40 281.69,157.58 281.99,156.72 282.28,155.82 282.58,154.87 282.87,153.88 283.17,152.85 283.46,151.79 283.75,150.68 284.05,149.54 284.34,148.36 284.64,147.15 284.93,145.90 285.23,144.62 285.52,143.32 285.81,141.98 286.11,140.62 286.40,139.23 286.70,137.82 286.99,136.38 287.28,134.93 287.58,133.45 287.87,131.96 288.17,130.45 288.46,128.92 288.76,127.38 289.05,125.83 289.34,124.27 289.64,122.70 289.93,121.12 290.23,119.54 290.52,117.95 290.82,116.36 291.11,114.77 291.40,113.18 291.70,111.60 291.99,110.01 292.29,108.43 292.58,106.86 292.88,105.29 293.17,103.74 293.46,102.19 293.76,100.66 294.05,99.14 294.35,97.64 294.64,96.15 294.93,94.68 295.23,93.23 295.52,91.80 295.82,90.39 296.11,89.00 296.41,87.64 296.70,86.30 296.99,84.99 297.29,83.71 297.58,82.45 297.88,81.23 298.17,80.03 298.47,78.87 298.76,77.73 299.05,76.63 299.35,75.57 299.64,74.54 299.94,73.54 300.23,72.58 300.52,71.66 300.82,70.77 301.11,69.93 301.41,69.12 301.70,68.35 302.00,67.62 302.29,66.93 302.58,66.28 302.88,65.67 303.17,65.10 303.47,64.57 303.76,64.08 304.06,63.64 304.35,63.23 304.64,62.87 304.94,62.55 305.23,62.27 305.53,62.03 305.82,61.84 306.12,61.68 306.41,61.57 306.70,61.50 307.00,61.46 307.29,61.47 307.59,61.52 307.88,61.61 308.17,61.73 308.47,61.90 308.76,62.10 309.06,62.34 309.35,62.62 309.65,62.94 309.94,63.29 310.23,63.68 310.53,64.10 310.82,64.55 311.12,65.04 311.41,65.56 311.71,66.12 312.00,66.70 312.29,67.31 312.59,67.96 312.88,68.63 313.18,69.33 313.47,70.05 313.77,70.80 314.06,71.58 314.35,72.38 314.65,73.20 314.94,74.04 315.24,74.91 315.53,75.79 315.82,76.69 316.12,77.61 316.41,78.55 316.71,79.50 317.00,80.46 317.30,81.44 317.59,82.43 317.88,83.44 318.18,84.45 318.47,85.47 318.77,86.50 319.06,87.53 319.36,88.57 319.65,89.62 319.94,90.67 320.24,91.72 320.53,92.77 320.83,93.83 321.12,94.88 321.42,95.93 321.71,96.98 322.00,98.02 322.30,99.06 322.59,100.10 322.89,101.12 323.18,102.14 323.47,103.15 323.77,104.16 324.06,105.15 324.36,106.13 324.65,107.10 324.95,108.05 325.24,108.99 325.53,109.92 325.83,110.83 326.12,111.73 326.42,112.61 326.71,113.47 327.01,114.31 327.30,115.14 327.59,115.94 327.89,116.73 328.18,117.49 328.48,118.24 328.77,118.96 329.07,119.66 329.36,120.34 329.65,120.99 329.95,121.62 330.24,122.23 330.54,122.82 330.83,123.38 331.12,123.91 331.42,124.42 331.71,124.91 332.01,125.36 332.30,125.80 332.60,126.21 332.89,126.59 333.18,126.94 333.48,127.27 333.77,127.58 334.07,127.86 334.36,128.11 334.66,128.33 334.95,128.53 335.24,128.71 335.54,128.86 335.83,128.98 336.13,129.07 336.42,129.15 336.72,129.19 337.01,129.21 337.30,129.21 337.60,129.18 337.89,129.13 338.19,129.06 338.48,128.96 338.77,128.84 339.07,128.69 339.36,128.53 339.66,128.34 339.95,128.13 340.25,127.90 340.54,127.65 340.83,127.38 341.13,127.09 341.42,126.78 341.72,126.45 342.01,126.11 342.31,125.74 342.60,125.36 342.89,124.97 343.19,124.56 343.48,124.13 343.78,123.69 344.07,123.23 344.37,122.77 344.66,122.28 344.95,121.79 345.25,121.29 345.54,120.77 345.84,120.25 346.13,119.71 346.42,119.17 346.72,118.62 347.01,118.06 347.31,117.49 347.60,116.92 347.90,116.34 348.19,115.76 348.48,115.17 348.78,114.58 349.07,113.99 349.37,113.39 349.66,112.80 349.96,112.20 350.25,111.60 350.54,111.00 350.84,110.40 351.13,109.80 351.43,109.20 351.72,108.61 352.01,108.02 352.31,107.43 352.60,106.84 352.90,106.27 353.19,105.69 353.49,105.12 353.78,104.56 354.07,104.00 354.37,103.45 354.66,102.91 354.96,102.37 355.25,101.85 355.55,101.33 355.84,100.82 356.13,100.32 356.43,99.83 356.72,99.35 357.02,98.88 357.31,98.42 357.61,97.97 357.90,97.54 358.19,97.11 358.49,96.70 358.78,96.30 359.08,95.91 359.37,95.53 359.66,95.17 359.96,94.82 360.25,94.48 360.55,94.16 360.84,93.85 361.14,93.55 361.43,93.27 361.72,93.00 362.02,92.74 362.31,92.50 362.61,92.27 362.90,92.06 363.20,91.86 363.49,91.67 363.78,91.50 364.08,91.34 364.37,91.19 364.67,91.06 364.96,90.94 365.26,90.84 365.55,90.75 365.84,90.67 366.14,90.61 366.43,90.55 366.73,90.52 367.02,90.49 367.31,90.48 367.61,90.48 367.90,90.49 368.20,90.51 368.49,90.55 368.79,90.60 369.08,90.65 369.37,90.72 369.67,90.80 369.96,90.90 370.26,91.00 370.55,91.11 370.85,91.23 371.14,91.36 371.43,91.50 371.73,91.65 372.02,91.81 372.32,91.98 372.61,92.15 372.91,92.34 373.20,92.53 373.49,92.73 373.79,92.93 374.08,93.14 374.38,93.36 374.67,93.58 374.96,93.81 375.26,94.04 375.55,94.28 375.85,94.53 376.14,94.77 376.44,95.03 376.73,95.28"/></g><g stroke="#000" stroke-width="1.1" fill="none"><circle cx="159.2" cy="225.6" r="1.65"/><circle cx="158.8" cy="223.1" r="1.65"/><circle cx="160.9" cy="221.8" r="1.65"/><circle cx="157.1" cy="217.8" r="1.65"/><circle cx="153.7" cy="214.0" r="1.65"/><circle cx="161.0" cy="214.9" r="1.65"/><circle cx="167.3" cy="215.5" r="1.65"/><circle cx="182.4" cy="219.7" r="1.65"/><circle cx="188.1" cy="219.9" r="1.65"/><circle cx="197.5" cy="221.8" r="1.65"/><circle cx="222.7" cy="230.6" r="1.65"/><circle cx="228.1" cy="230.6" r="1.65"/><circle cx="239.4" cy="233.1" r="1.65"/><circle cx="235.3" cy="229.3" r="1.65"/><circle cx="224.8" cy="222.4" r="1.65"/><circle cx="215.7" cy="215.8" r="1.65"/><circle cx="203.3" cy="208.3" r="1.65"/><circle cx="205.5" cy="207.0" r="1.65"/><circle cx="217.6" cy="209.9" r="1.65"/><circle cx="229.2" cy="212.8" r="1.65"/><circle cx="249.0" cy="219.2" r="1.65"/><circle cx="263.5" cy="223.1" r="1.65"/><circle cx="283.2" cy="229.3" r="1.65"/><circle cx="292.0" cy="231.2" r="1.65"/><circle cx="304.9" cy="234.4" r="1.65"/><circle cx="305.7" cy="232.5" r="1.65"/><circle cx="290.3" cy="223.7" r="1.65"/><circle cx="267.4" cy="211.3" r="1.65"/><circle cx="275.2" cy="212.4" r="1.65"/><circle cx="270.3" cy="208.0" r="1.65"/><circle cx="274.0" cy="207.1" r="1.65"/><circle cx="292.2" cy="213.0" r="1.65"/><circle cx="295.3" cy="212.0" r="1.65"/><circle cx="314.3" cy="218.1" r="1.65"/><circle cx="333.9" cy="224.3" r="1.65"/><circle cx="334.7" cy="222.4" r="1.65"/><circle cx="349.7" cy="226.6" r="1.65"/><circle cx="343.5" cy="221.8" r="1.65"/><circle cx="347.4" cy="221.2" r="1.65"/><circle cx="338.1" cy="214.9" r="1.65"/><circle cx="335.1" cy="211.2" r="1.65"/><circle cx="340.3" cy="210.8" r="1.65"/><circle cx="349.6" cy="213.0" r="1.65"/><circle cx="365.2" cy="217.4" r="1.65"/><circle cx="370.5" cy="217.5" r="1.65"/><circle cx="381.4" cy="219.9" r="1.65"/><circle cx="380.6" cy="217.5" r="1.65"/><circle cx="391.3" cy="219.9" r="1.65"/><circle cx="398.5" cy="220.9" r="1.65"/><circle cx="402.4" cy="220.2" r="1.65"/><circle cx="397.3" cy="215.5" r="1.65"/><circle cx="406.1" cy="217.2" r="1.65"/><circle cx="410.5" cy="216.8" r="1.65"/><circle cx="415.8" cy="216.8" r="1.65"/><circle cx="462.2" cy="113.7" r="1.65"/><circle cx="456.7" cy="116.6" r="1.65"/><circle cx="453.9" cy="109.0" r="1.65"/><circle cx="445.0" cy="112.7" r="1.65"/><circle cx="436.5" cy="110.8" r="1.65"/><circle cx="438.8" cy="123.1" r="1.65"/><circle cx="440.4" cy="135.1" r="1.65"/><circle cx="450.2" cy="152.2" r="1.65"/><circle cx="450.9" cy="155.2" r="1.65"/><circle cx="455.5" cy="154.5" r="1.65"/><circle cx="475.8" cy="141.6" r="1.65"/><circle cx="476.0" cy="145.4" r="1.65"/><circle cx="482.0" cy="124.5" r="1.65"/><circle cx="473.5" cy="107.8" r="1.65"/><circle cx="458.0" cy="62.1" r="1.65"/><circle cx="443.0" cy="64.8" r="1.65"/><circle cx="426.0" cy="61.2" r="1.65"/><circle cx="423.3" cy="89.6" r="1.65"/><circle cx="430.1" cy="115.0" r="1.65"/><circle cx="437.0" cy="150.9" r="1.65"/><circle cx="451.9" cy="179.2" r="1.65"/><circle cx="461.1" cy="184.4" r="1.65"/><circle cx="475.5" cy="177.0" r="1.65"/><circle cx="480.0" cy="152.5" r="1.65"/><circle cx="487.5" cy="123.7" r="1.65"/><circle cx="483.4" cy="95.0" r="1.65"/><circle cx="463.5" cy="47.6" r="1.65"/><circle cx="435.3" cy="38.9" r="1.65"/><circle cx="438.0" cy="35.9" r="1.65"/><circle cx="428.1" cy="67.9" r="1.65"/><circle cx="426.3" cy="87.6" r="1.65"/><circle cx="440.0" cy="147.0" r="1.65"/><circle cx="438.0" cy="155.3" r="1.65"/><circle cx="452.1" cy="180.9" r="1.65"/><circle cx="466.6" cy="176.5" r="1.65"/><circle cx="462.4" cy="154.1" r="1.65"/><circle cx="472.3" cy="118.1" r="1.65"/><circle cx="461.5" cy="83.6" r="1.65"/><circle cx="460.3" cy="71.6" r="1.65"/><circle cx="446.1" cy="61.6" r="1.65"/><circle cx="437.9" cy="72.3" r="1.65"/><circle cx="437.2" cy="103.3" r="1.65"/><circle cx="442.4" cy="127.0" r="1.65"/><circle cx="452.7" cy="146.2" r="1.65"/><circle cx="453.1" cy="153.8" r="1.65"/><circle cx="458.8" cy="155.5" r="1.65"/><circle cx="453.6" cy="144.4" r="1.65"/><circle cx="459.3" cy="136.4" r="1.65"/><circle cx="461.8" cy="132.8" r="1.65"/><circle cx="460.4" cy="120.2" r="1.65"/><circle cx="449.8" cy="107.9" r="1.65"/><circle cx="453.9" cy="102.2" r="1.65"/><circle cx="453.3" cy="108.5" r="1.65"/><circle cx="453.5" cy="104.9" r="1.65"/><circle cx="112.6" cy="98.8" r="1.65"/><circle cx="117.6" cy="103.9" r="1.65"/><circle cx="122.5" cy="97.6" r="1.65"/><circle cx="127.6" cy="105.0" r="1.65"/><circle cx="132.7" cy="106.7" r="1.65"/><circle cx="137.7" cy="117.7" r="1.65"/><circle cx="142.4" cy="128.7" r="1.65"/><circle cx="147.7" cy="141.2" r="1.65"/><circle cx="152.7" cy="143.8" r="1.65"/><circle cx="157.6" cy="141.0" r="1.65"/><circle cx="162.5" cy="119.5" r="1.65"/><circle cx="167.7" cy="123.0" r="1.65"/><circle cx="173.0" cy="99.8" r="1.65"/><circle cx="177.4" cy="86.9" r="1.65"/><circle cx="182.4" cy="48.6" r="1.65"/><circle cx="188.2" cy="57.6" r="1.65"/><circle cx="192.8" cy="61.3" r="1.65"/><circle cx="197.7" cy="90.3" r="1.65"/><circle cx="202.9" cy="112.2" r="1.65"/><circle cx="207.7" cy="144.5" r="1.65"/><circle cx="212.6" cy="165.8" r="1.65"/><circle cx="218.0" cy="166.9" r="1.65"/><circle cx="223.3" cy="153.3" r="1.65"/><circle cx="227.6" cy="127.2" r="1.65"/><circle cx="233.0" cy="95.5" r="1.65"/><circle cx="238.0" cy="69.0" r="1.65"/><circle cx="242.4" cy="30.8" r="1.65"/><circle cx="247.6" cy="34.3" r="1.65"/><circle cx="252.7" cy="30.1" r="1.65"/><circle cx="257.7" cy="65.8" r="1.65"/><circle cx="263.1" cy="85.8" r="1.65"/><circle cx="267.6" cy="138.2" r="1.65"/><circle cx="272.8" cy="147.2" r="1.65"/><circle cx="277.7" cy="166.2" r="1.65"/><circle cx="282.9" cy="155.5" r="1.65"/><circle cx="287.8" cy="135.2" r="1.65"/><circle cx="293.0" cy="95.4" r="1.65"/><circle cx="297.6" cy="66.1" r="1.65"/><circle cx="302.6" cy="54.7" r="1.65"/><circle cx="307.5" cy="50.9" r="1.65"/><circle cx="312.7" cy="64.8" r="1.65"/><circle cx="318.6" cy="95.5" r="1.65"/><circle cx="322.7" cy="116.5" r="1.65"/><circle cx="328.0" cy="130.9" r="1.65"/><circle cx="332.9" cy="138.1" r="1.65"/><circle cx="338.1" cy="137.2" r="1.65"/><circle cx="342.5" cy="128.4" r="1.65"/><circle cx="347.6" cy="118.0" r="1.65"/><circle cx="352.3" cy="113.3" r="1.65"/><circle cx="357.6" cy="101.4" r="1.65"/><circle cx="363.0" cy="93.8" r="1.65"/><circle cx="367.7" cy="86.3" r="1.65"/><circle cx="372.8" cy="92.7" r="1.65"/><circle cx="377.9" cy="89.0" r="1.65"/></g><g stroke="#1432c8" stroke-width="2.2" fill="none"><line x1="246.38" y1="12.9" x2="246.38" y2="202.65"/></g><g stroke="#e81010" stroke-width="2.25" fill="none" stroke-linejoin="round" stroke-linecap="round"><polyline points="156.37,122.23 156.60,121.72 156.82,121.20 157.03,120.68 157.24,120.16 157.44,119.64 157.63,119.11 157.82,118.58 158.00,118.05 158.17,117.52 158.34,116.99 158.50,116.45 158.65,115.92 158.80,115.39 158.94,114.86 159.08,114.34 159.20,113.81 159.33,113.29 159.44,112.78 159.55,112.26 159.66,111.76 159.75,111.26 159.85,110.76 159.93,110.27 160.02,109.79 160.09,109.32 160.16,108.86 160.23,108.40 160.29,107.95 160.35,107.52 160.40,107.10 160.45,106.68 160.49,106.28 160.54,105.89 160.57,105.52 160.61,105.16 160.64,104.81 160.66,104.48 160.69,104.16 160.71,103.86 160.73,103.57 160.75,103.30 160.76,103.05 160.78,102.82 160.79,102.60 160.80,102.40 160.81,102.22 160.83,102.07 160.84,101.93 160.85,101.81 160.86,101.71 160.87,101.63 160.88,101.58 160.90,101.54 160.91,101.53 160.93,101.54 160.95,101.57 160.97,101.62 161.00,101.70 161.02,101.80 161.06,101.92 161.09,102.07 161.13,102.24 161.17,102.43 161.22,102.65 161.27,102.89 161.33,103.16 161.39,103.44 161.46,103.76 161.53,104.09 161.61,104.45 161.70,104.84 161.79,105.24 161.89,105.67 162.00,106.13 162.12,106.60 162.24,107.10 162.37,107.62 162.51,108.17 162.66,108.73 162.82,109.32 162.99,109.93 163.16,110.56 163.35,111.21 163.54,111.88 163.75,112.57 163.96,113.28 164.19,114.01 164.43,114.75 164.67,115.52 164.93,116.30 165.20,117.09 165.48,117.91 165.77,118.74 166.07,119.58 166.39,120.44 166.71,121.31 167.05,122.19 167.40,123.08 167.76,123.99 168.13,124.90 168.52,125.83 168.91,126.76 169.32,127.70 169.74,128.65 170.17,129.60 170.62,130.56 171.08,131.52 171.54,132.49 172.02,133.45 172.52,134.42 173.02,135.39 173.54,136.36 174.06,137.33 174.60,138.30 175.15,139.26 175.71,140.21 176.28,141.16 176.87,142.11 177.46,143.05 178.06,143.98 178.68,144.89 179.30,145.80 179.93,146.70 180.58,147.58 181.23,148.45 181.89,149.31 182.56,150.15 183.24,150.98 183.93,151.78 184.63,152.57 185.33,153.34 186.04,154.09 186.76,154.81 187.48,155.52 188.21,156.20 188.95,156.85 189.69,157.48 190.43,158.09 191.19,158.67 191.94,159.22 192.70,159.74 193.46,160.24 194.23,160.70 195.00,161.13 195.77,161.53 196.54,161.90 197.31,162.24 198.09,162.54 198.86,162.81 199.64,163.05 200.41,163.25 201.18,163.41 201.95,163.54 202.72,163.63 203.49,163.68 204.25,163.70 205.01,163.68 205.77,163.62 206.52,163.52 207.27,163.38 208.01,163.21 208.75,162.99 209.48,162.74 210.20,162.44 210.91,162.11 211.62,161.74 212.32,161.33 213.01,160.88 213.69,160.39 214.36,159.86 215.02,159.29 215.68,158.68 216.32,158.04 216.94,157.36 217.56,156.64 218.17,155.88 218.76,155.08 219.34,154.25 219.90,153.39 220.45,152.48 220.99,151.55 221.51,150.57 222.02,149.57 222.52,148.53 222.99,147.46 223.46,146.36 223.90,145.23 224.33,144.07 224.75,142.88 225.14,141.66 225.52,140.42 225.88,139.15 226.23,137.86 226.56,136.54 226.87,135.20 227.16,133.84 227.43,132.46 227.69,131.06 227.92,129.64 228.14,128.20 228.34,126.75 228.53,125.29 228.69,123.81 228.83,122.32 228.96,120.82 229.07,119.32 229.16,117.80 229.23,116.28 229.28,114.76 229.32,113.23 229.34,111.70 229.34,110.18 229.32,108.65 229.28,107.12 229.23,105.61 229.16,104.09 229.07,102.59 228.97,101.09 228.85,99.60 228.71,98.13 228.56,96.67 228.39,95.23 228.21,93.80 228.01,92.39 227.80,91.00 227.58,89.63 227.34,88.28 227.09,86.96 226.82,85.66 226.54,84.39 226.26,83.15 225.96,81.93 225.65,80.75 225.33,79.60 225.00,78.49 224.66,77.41 224.31,76.36 223.95,75.36 223.59,74.39 223.22,73.46 222.84,72.57 222.46,71.73 222.07,70.92 221.68,70.17 221.29,69.45 220.89,68.79 220.49,68.17 220.09,67.60 219.68,67.07 219.28,66.60 218.88,66.18 218.47,65.80 218.07,65.48 217.67,65.22 217.28,65.00 216.88,64.84 216.49,64.73 216.11,64.68 215.73,64.68 215.36,64.73 215.00,64.84 214.64,65.01 214.29,65.23 213.95,65.50 213.62,65.83 213.30,66.22 213.00,66.66 212.70,67.16 212.42,67.71 212.14,68.32 211.89,68.98 211.64,69.69 211.41,70.46 211.20,71.28 211.00,72.16 210.82,73.08 210.65,74.06 210.51,75.09 210.38,76.17 210.26,77.29 210.17,78.47 210.10,79.69 210.05,80.96 210.01,82.28 210.00,83.63 210.01,85.04 210.04,86.48 210.09,87.96 210.17,89.49 210.26,91.05 210.38,92.65 210.53,94.28 210.69,95.95 210.88,97.65 211.09,99.39 211.33,101.15 211.59,102.94 211.88,104.76 212.19,106.60 212.52,108.46 212.88,110.35 213.26,112.25 213.67,114.17 214.10,116.11 214.56,118.07 215.04,120.03 215.54,122.01 216.07,123.99 216.62,125.98 217.20,127.98 217.80,129.98 218.42,131.98 219.07,133.98 219.74,135.98 220.44,137.97 221.15,139.95 221.89,141.93 222.65,143.90 223.43,145.85 224.24,147.79 225.06,149.71 225.90,151.62 226.77,153.50 227.65,155.37 228.55,157.21 229.47,159.02 230.41,160.80 231.36,162.56 232.34,164.29 233.32,165.98 234.33,167.63 235.34,169.26 236.38,170.84 237.42,172.38 238.48,173.88 239.55,175.34 240.63,176.76 241.72,178.12 242.83,179.45 243.94,180.72 245.06,181.94 246.19,183.11 247.32,184.23 248.46,185.29 249.61,186.30 250.76,187.26 251.91,188.15 253.07,188.99 254.23,189.77 255.39,190.49 256.55,191.14 257.71,191.74 258.87,192.27 260.03,192.74 261.18,193.15 262.34,193.49 263.48,193.76 264.62,193.97 265.76,194.12 266.89,194.20 268.01,194.21 269.12,194.16 270.22,194.04 271.31,193.86 272.39,193.61 273.46,193.29 274.51,192.91 275.56,192.46 276.59,191.94 277.60,191.36 278.60,190.72 279.58,190.01 280.55,189.24 281.49,188.40 282.42,187.50 283.33,186.55 284.22,185.53 285.09,184.45 285.94,183.31 286.77,182.11 287.58,180.86 288.36,179.55 289.12,178.19 289.86,176.77 290.58,175.30 291.27,173.78 291.93,172.21 292.57,170.59 293.19,168.93 293.77,167.22 294.34,165.47 294.87,163.68 295.38,161.85 295.87,159.97 296.32,158.07 296.75,156.12 297.15,154.15 297.52,152.14 297.87,150.11 298.19,148.04 298.47,145.96 298.74,143.84 298.97,141.71 299.18,139.56 299.35,137.39 299.50,135.20 299.63,133.01 299.72,130.80 299.79,128.58 299.83,126.36 299.85,124.13 299.83,121.89 299.79,119.66 299.73,117.43 299.64,115.20 299.52,112.98 299.38,110.77 299.22,108.57 299.03,106.38 298.81,104.20 298.58,102.04 298.32,99.90 298.03,97.78 297.73,95.68 297.41,93.61 297.06,91.56 296.70,89.55 296.31,87.56 295.91,85.60 295.49,83.68 295.05,81.80 294.60,79.95 294.13,78.14 293.64,76.37 293.14,74.65 292.63,72.97 292.10,71.34 291.56,69.75 291.01,68.22 290.45,66.73 289.88,65.30 289.30,63.92 288.71,62.60 288.12,61.33 287.52,60.11 286.91,58.96 286.30,57.86 285.69,56.83 285.07,55.86 284.46,54.94 283.84,54.09 283.22,53.31 282.60,52.59 281.98,51.93 281.36,51.34 280.75,50.82 280.14,50.36 279.54,49.97 278.95,49.64 278.36,49.38 277.77,49.19 277.20,49.07 276.64,49.02 276.08,49.03 275.54,49.11 275.01,49.25 274.49,49.47 273.98,49.75 273.49,50.09 273.01,50.51 272.55,50.99 272.10,51.53 271.67,52.13 271.26,52.80 270.87,53.54 270.49,54.33 270.14,55.19 269.80,56.10 269.49,57.08 269.19,58.11 268.92,59.20 268.67,60.35 268.44,61.55 268.24,62.80 268.06,64.11 267.90,65.46 267.77,66.87 267.66,68.32 267.58,69.82 267.52,71.36 267.49,72.95 267.48,74.58 267.50,76.25 267.55,77.96 267.62,79.70 267.72,81.48 267.85,83.29 268.01,85.13 268.19,87.00 268.39,88.90 268.63,90.82 268.89,92.77 269.18,94.74 269.50,96.73 269.84,98.74 270.21,100.76 270.61,102.79 271.03,104.84 271.48,106.90 271.96,108.96 272.46,111.04 272.98,113.11 273.54,115.19 274.11,117.26 274.71,119.34 275.34,121.41 275.99,123.47 276.66,125.53 277.36,127.57 278.08,129.61 278.82,131.63 279.58,133.63 280.37,135.61 281.17,137.58 282.00,139.53 282.84,141.45 283.70,143.34 284.58,145.21 285.48,147.05 286.40,148.87 287.33,150.65 288.28,152.39 289.24,154.10 290.22,155.78 291.21,157.42 292.21,159.01 293.23,160.57 294.25,162.09 295.29,163.56 296.34,164.98 297.39,166.37 298.46,167.70 299.53,168.99 300.61,170.22 301.69,171.41 302.78,172.55 303.88,173.63 304.98,174.66 306.08,175.64 307.18,176.56 308.28,177.43 309.39,178.25 310.49,179.00 311.60,179.70 312.70,180.35 313.80,180.93 314.89,181.46 315.98,181.93 317.07,182.34 318.15,182.70 319.23,182.99 320.29,183.23 321.35,183.41 322.40,183.53 323.45,183.59 324.48,183.60 325.50,183.54 326.51,183.43 327.51,183.27 328.49,183.04 329.46,182.76 330.42,182.43 331.37,182.04 332.30,181.59 333.21,181.09 334.11,180.54 334.99,179.94 335.86,179.28 336.70,178.58 337.53,177.83 338.35,177.02 339.14,176.17 339.91,175.28 340.67,174.34 341.40,173.35 342.12,172.32 342.81,171.25 343.48,170.14 344.14,168.99 344.77,167.81 345.38,166.58 345.97,165.32 346.53,164.03 347.08,162.71 347.60,161.35 348.10,159.96 348.58,158.55 349.04,157.11 349.47,155.65 349.89,154.16 350.28,152.65 350.64,151.12 350.99,149.58 351.31,148.01 351.61,146.43 351.89,144.84 352.15,143.23 352.39,141.62 352.61,139.99 352.80,138.36 352.97,136.72 353.13,135.08 353.26,133.44 353.37,131.79 353.47,130.15 353.54,128.51 353.59,126.87 353.63,125.24 353.65,123.61 353.65,121.99 353.63,120.39 353.59,118.79 353.54,117.21 353.47,115.64 353.39,114.09 353.29,112.56 353.18,111.04 353.05,109.54 352.91,108.07 352.75,106.62 352.58,105.19 352.40,103.79 352.21,102.41 352.01,101.06 351.80,99.74 351.57,98.44 351.34,97.18 351.10,95.95 350.85,94.76 350.59,93.59 350.33,92.46 350.06,91.37 349.78,90.31 349.50,89.29 349.22,88.30 348.93,87.36 348.64,86.45 348.34,85.58 348.04,84.75 347.74,83.96 347.44,83.22 347.14,82.51 346.84,81.85 346.54,81.22 346.24,80.64 345.95,80.11 345.66,79.61 345.37,79.16 345.08,78.75 344.80,78.38 344.52,78.06 344.25,77.78 343.98,77.54 343.72,77.35 343.47,77.19 343.22,77.08 342.98,77.02 342.75,76.99 342.53,77.01 342.32,77.06 342.11,77.16 341.92,77.30 341.74,77.48 341.56,77.69 341.40,77.95 341.25,78.24 341.12,78.57 340.99,78.94 340.88,79.35 340.78,79.79 340.69,80.27 340.61,80.78 340.55,81.32 340.50,81.89 340.47,82.50 340.45,83.14 340.45,83.81 340.45,84.50 340.48,85.23 340.52,85.98 340.57,86.76 340.64,87.56 340.72,88.39 340.82,89.24 340.93,90.11 341.06,91.00 341.20,91.92 341.36,92.85 341.54,93.80 341.73,94.76 341.93,95.74 342.15,96.74 342.38,97.75 342.63,98.77 342.89,99.80 343.17,100.84 343.46,101.89 343.77,102.95 344.09,104.02 344.43,105.09 344.78,106.16 345.14,107.24 345.51,108.32 345.90,109.40 346.30,110.48 346.72,111.56 347.14,112.64 347.58,113.71 348.03,114.78 348.49,115.85 348.97,116.91 349.45,117.96 349.95,119.00 350.45,120.03 350.97,121.06 351.49,122.07 352.02,123.07 352.57,124.06 353.12,125.03 353.68,125.99 354.24,126.94 354.82,127.87 355.40,128.78 355.99,129.67 356.58,130.55 357.19,131.41 357.79,132.24 358.40,133.06 359.02,133.86 359.64,134.63 360.27,135.38 360.89,136.11 361.53,136.82 362.16,137.51 362.80,138.17 363.44,138.80 364.08,139.41 364.72,140.00 365.36,140.56 366.01,141.09 366.65,141.60 367.29,142.09 367.94,142.54 368.58,142.97 369.22,143.38 369.86,143.75 370.50,144.10 371.13,144.43 371.76,144.72 372.39,144.99 373.02,145.24 373.64,145.45 374.26,145.64 374.88,145.80 375.49,145.94 376.10,146.05 376.70,146.13 377.29,146.19 377.89,146.22 378.47,146.23 379.05,146.21 379.62,146.16 380.19,146.09 380.75,146.00 381.31,145.89 381.85,145.75 382.39,145.58 382.93,145.40 383.45,145.19 383.97,144.96 384.48,144.71 384.98,144.44 385.48,144.15 385.97,143.83 386.45,143.50 386.92,143.16 387.38,142.79 387.84,142.40 388.28,142.00 388.72,141.59 389.15,141.15 389.57,140.70 389.99,140.24 390.39,139.76 390.79,139.28 391.18,138.77 391.56,138.26 391.93,137.73 392.29,137.20 392.65,136.65 393.00,136.10 393.34,135.54 393.67,134.97 393.99,134.39 394.31,133.81 394.62,133.22 394.92,132.62 395.21,132.02 395.50,131.42 395.78,130.81 396.05,130.20 396.32,129.59 396.57,128.98 396.83,128.37 397.07,127.75 397.31,127.14 397.54,126.53 397.77,125.92 397.99,125.31 398.21,124.71 398.42,124.11 398.62,123.52 398.82,122.92 399.02,122.34 399.21,121.76 399.40,121.18 399.58,120.62 399.76,120.06 399.93,119.51 400.10,118.96 400.27,118.43 400.44,117.90 400.60,117.38 400.76,116.88 400.91,116.38 401.07,115.89 401.22,115.42 401.37,114.95 401.51,114.50 401.66,114.06 401.81,113.63 401.95,113.21 402.09,112.81 402.23,112.42 402.38,112.04 402.52,111.68 402.66,111.33 402.80,110.99 402.94,110.67 403.08,110.36 403.22,110.06 403.37,109.78 403.51,109.52 403.65,109.26 403.80,109.02 403.95,108.80 404.09,108.59 404.24,108.40 404.40,108.22 404.55,108.05 404.71,107.90 404.86,107.76 405.02,107.64 405.19,107.53 405.35,107.43 405.52,107.35 405.69,107.29 405.86,107.23 406.04,107.19 406.22,107.17 406.40,107.15 406.58,107.15 406.77,107.16 406.96,107.19 407.16,107.23 407.35,107.27 407.55,107.34 407.76,107.41 407.97,107.49 408.18,107.59 408.39,107.69 408.61,107.81 408.84,107.94 409.06,108.07 409.29,108.22 409.52,108.38 409.76,108.54 410.00,108.72 410.24,108.90 410.49,109.09 410.74,109.29 411.00,109.49 411.25,109.71 411.51,109.92 411.78,110.15 412.05,110.38 412.32,110.62 412.59,110.86 412.87,111.11"/></g><g stroke="#e81010" stroke-width="1.1" fill="none"><circle cx="159.2" cy="119.2" r="1.65"/><circle cx="158.8" cy="121.9" r="1.65"/><circle cx="160.9" cy="114.4" r="1.65"/><circle cx="157.1" cy="117.9" r="1.65"/><circle cx="153.7" cy="115.9" r="1.65"/><circle cx="161.0" cy="127.9" r="1.65"/><circle cx="167.3" cy="139.6" r="1.65"/><circle cx="182.4" cy="156.4" r="1.65"/><circle cx="188.1" cy="159.3" r="1.65"/><circle cx="197.5" cy="158.5" r="1.65"/><circle cx="222.7" cy="145.9" r="1.65"/><circle cx="228.1" cy="149.5" r="1.65"/><circle cx="239.4" cy="128.9" r="1.65"/><circle cx="235.3" cy="112.3" r="1.65"/><circle cx="224.8" cy="67.2" r="1.65"/><circle cx="215.7" cy="69.6" r="1.65"/><circle cx="203.3" cy="65.9" r="1.65"/><circle cx="205.5" cy="93.7" r="1.65"/><circle cx="217.6" cy="118.6" r="1.65"/><circle cx="229.2" cy="153.9" r="1.65"/><circle cx="249.0" cy="181.7" r="1.65"/><circle cx="263.5" cy="186.8" r="1.65"/><circle cx="283.2" cy="179.5" r="1.65"/><circle cx="292.0" cy="155.4" r="1.65"/><circle cx="304.9" cy="127.0" r="1.65"/><circle cx="305.7" cy="98.7" r="1.65"/><circle cx="290.3" cy="51.8" r="1.65"/><circle cx="267.4" cy="43.0" r="1.65"/><circle cx="275.2" cy="40.0" r="1.65"/><circle cx="270.3" cy="71.3" r="1.65"/><circle cx="274.0" cy="90.6" r="1.65"/><circle cx="292.2" cy="149.0" r="1.65"/><circle cx="295.3" cy="157.1" r="1.65"/><circle cx="314.3" cy="182.2" r="1.65"/><circle cx="333.9" cy="177.9" r="1.65"/><circle cx="334.7" cy="155.7" r="1.65"/><circle cx="349.7" cy="120.2" r="1.65"/><circle cx="343.5" cy="86.2" r="1.65"/><circle cx="347.4" cy="74.3" r="1.65"/><circle cx="338.1" cy="64.3" r="1.65"/><circle cx="335.1" cy="74.6" r="1.65"/><circle cx="340.3" cy="105.0" r="1.65"/><circle cx="349.6" cy="128.3" r="1.65"/><circle cx="365.2" cy="147.2" r="1.65"/><circle cx="370.5" cy="154.6" r="1.65"/><circle cx="381.4" cy="156.1" r="1.65"/><circle cx="380.6" cy="145.1" r="1.65"/><circle cx="391.3" cy="137.2" r="1.65"/><circle cx="398.5" cy="133.5" r="1.65"/><circle cx="402.4" cy="121.0" r="1.65"/><circle cx="397.3" cy="108.8" r="1.65"/><circle cx="406.1" cy="103.1" r="1.65"/><circle cx="410.5" cy="109.2" r="1.65"/><circle cx="415.8" cy="105.6" r="1.65"/></g>
</svg>
</body></html>
